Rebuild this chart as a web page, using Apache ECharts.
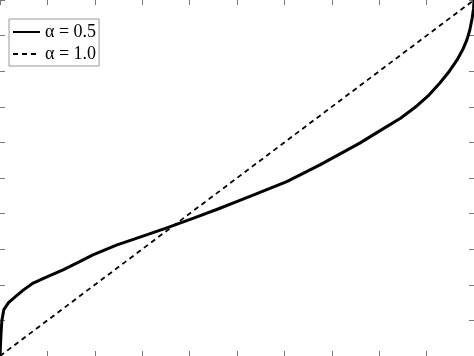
<!DOCTYPE html>
<html>
<head>
<meta charset="utf-8">
<script src="https://cdn.jsdelivr.net/npm/echarts@6/dist/echarts.min.js"></script>
<style>
html,body{margin:0;padding:0;background:#fff;}
#chart{width:474px;height:356px;}
</style>
</head>
<body>
<div id="chart"></div>
<script>
// Data (x and y in [0,1])
const seriesNames = ['\u03b1 = 0.5', '\u03b1 = 1.0'];
const alpha05X = [0, 0.002, 0.004, 0.008, 0.018, 0.032, 0.049, 0.070, 0.099, 0.133, 0.165, 0.196, 0.247, 0.300, 0.352, 0.410, 0.464, 0.506, 0.534, 0.605, 0.675, 0.759, 0.808, 0.845, 0.880, 0.905, 0.928, 0.948, 0.964, 0.976, 0.985, 0.991, 0.996, 0.999, 1];
const alpha05Y = [0, 0.060, 0.100, 0.130, 0.150, 0.166, 0.185, 0.205, 0.222, 0.242, 0.263, 0.284, 0.312, 0.336, 0.360, 0.388, 0.415, 0.437, 0.452, 0.490, 0.537, 0.598, 0.638, 0.668, 0.703, 0.733, 0.767, 0.800, 0.831, 0.860, 0.888, 0.915, 0.948, 0.975, 1];
const alpha10X = [0, 1];
const alpha10Y = [0, 1];

const zip = (a, b) => a.map((v, i) => [v, b[i]]);

function mkAxis(pos) {
  return { type: 'value', show: true, position: pos, min: 0, max: 1, interval: 0.1,
    axisLine: { show: false, onZero: false },
    axisTick: { show: true, inside: true, length: 5, lineStyle: { color: '#777', width: 1 } },
    axisLabel: { show: false }, splitLine: { show: false } };
}

const chart = echarts.init(document.getElementById('chart'), null, { renderer: 'canvas' });
chart.setOption({
  animation: false,
  backgroundColor: '#fff',
  grid: { left: 0, right: 0, top: 0, bottom: 0, containLabel: false },
  xAxis: [mkAxis('bottom'), mkAxis('top')],
  yAxis: [mkAxis('left'), mkAxis('right')],
  legend: {
    orient: 'vertical', left: 9, top: 19,
    backgroundColor: '#fff', borderColor: '#999', borderWidth: 1,
    padding: [4, 3, 3, 3], itemGap: 4, itemWidth: 27, itemHeight: 18,
    itemStyle: { opacity: 0 },
    textStyle: { fontFamily: 'Liberation Serif', fontSize: 18, color: '#000', lineHeight: 18 },
    data: seriesNames
  },
  series: [
    { name: seriesNames[0], type: 'line', data: zip(alpha05X, alpha05Y), symbol: 'none',
      smooth: false, clip: false,
      lineStyle: { color: '#000', width: 3, join: 'round' }, itemStyle: { color: '#000' } },
    { name: seriesNames[1], type: 'line', data: zip(alpha10X, alpha10Y), symbol: 'none',
      lineStyle: { color: '#000', width: 1.8, type: [5, 4] }, itemStyle: { color: '#000' } },
    { type: 'line', xAxisIndex: 1, yAxisIndex: 1, data: [], silent: true }
  ]
});
</script>
</body>
</html>
